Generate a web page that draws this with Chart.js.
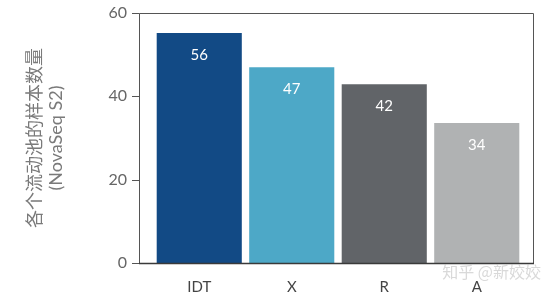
<!DOCTYPE html>
<html>
<head>
<meta charset="utf-8">
<script src="https://cdn.jsdelivr.net/npm/chart.js@4.4.1/dist/chart.umd.min.js"></script>
<style>
  html, body { margin: 0; padding: 0; background: #fff; }
  #wrap { width: 555px; height: 297px; }
</style>
</head>
<body>
<div id="wrap"><canvas id="c"></canvas></div>
<script>
// Bar heights as drawn, and the labels printed inside them.
const categories = ['IDT', 'X', 'R', 'A'];
const barValues = [55.2, 47, 42.9, 33.6];
const barLabels = ['56', '47', '42', '34'];
const barColors = ['#124a85', '#4da8c7', '#616468', '#b0b2b3'];
const yTicks = [0, 20, 40, 60];
const yTitle = ['各个流动池的样本数量', '(NovaSeq S2)'];
const watermark = '知乎 @新姣姣';

const FONT = 'Lato, "Noto Sans CJK SC", sans-serif';

// Frame around the plot sits outside the bar area on left and right.
const framePlugin = {
    id: 'frame',
    afterDatasetsDraw(chart) {
        const { ctx, chartArea: a, scales } = chart;
        const left = a.left - 14, right = a.right + 10;
        ctx.save();
        ctx.strokeStyle = '#555';
        ctx.lineWidth = 1;
        ctx.beginPath();
        ctx.moveTo(left + 0.5, a.top + 0.5);
        ctx.lineTo(right + 0.5, a.top + 0.5);
        ctx.lineTo(right + 0.5, a.bottom + 0.5);
        ctx.moveTo(left + 0.5, a.top + 0.5);
        ctx.lineTo(left + 0.5, a.bottom + 0.5);
        yTicks.forEach((v) => {
            const y = Math.round(scales.y.getPixelForValue(v)) + 0.5;
            ctx.moveTo(left - 7, y);
            ctx.lineTo(left + 0.5, y);
        });
        ctx.stroke();
        ctx.strokeStyle = '#3a3a3a';
        ctx.lineWidth = 1.5;
        ctx.beginPath();
        ctx.moveTo(left, a.bottom + 0.5);
        ctx.lineTo(right + 1, a.bottom + 0.5);
        ctx.stroke();

        // white value labels inside the bars
        ctx.fillStyle = '#fff';
        ctx.font = '15px ' + FONT;
        ctx.textAlign = 'center';
        ctx.textBaseline = 'middle';
        chart.getDatasetMeta(0).data.forEach((bar, i) => {
            ctx.fillText(barLabels[i], bar.x, bar.y + 22);
        });

        // watermark
        ctx.fillStyle = 'rgba(170,170,170,0.45)';
        ctx.font = '16px "Noto Sans CJK SC", sans-serif';
        ctx.textAlign = 'right';
        ctx.fillText(watermark, 541, 272);
        ctx.restore();
    },
};

new Chart(document.getElementById('c'), {
    type: 'bar',
    data: {
        labels: categories,
        datasets: [{
            data: barValues,
            backgroundColor: barColors,
            borderWidth: 0,
            barPercentage: 0.92,
            categoryPercentage: 1,
        }],
    },
    options: {
        responsive: true,
        maintainAspectRatio: false,
        animation: false,
        layout: { padding: { top: 13, right: 32, left: 0, bottom: 0 } },
        plugins: { legend: { display: false }, tooltip: { enabled: false } },
        scales: {
            x: {
                grid: { display: false, drawTicks: false },
                border: { display: false },
                ticks: { color: '#444', font: { family: FONT, size: 15 }, padding: 15 },
                afterFit: (s) => { s.height = 34; s.paddingLeft = 0; s.paddingRight = 0; },
            },
            y: {
                min: 0,
                max: 60,
                afterBuildTicks: (s) => { s.ticks = yTicks.map((v) => ({ value: v })); },
                afterFit: (s) => { s.width = 153; s.paddingTop = 0; s.paddingBottom = 0; },
                grid: { display: false, drawTicks: false },
                border: { display: false },
                ticks: { color: '#666', font: { family: FONT, size: 16 }, padding: 26 },
                title: {
                    display: true,
                    text: yTitle,
                    color: '#7a7a7a',
                    font: { family: FONT, size: 18 },
                    lineHeight: 1.22,
                    padding: { top: 24, bottom: 0 },
                },
            },
        },
    },
    plugins: [framePlugin],
});
</script>
</body>
</html>
